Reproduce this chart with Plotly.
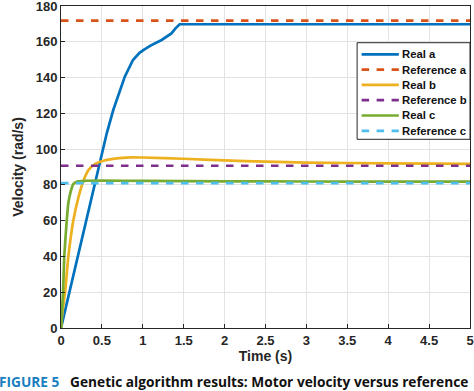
import plotly.graph_objects as go

# Time samples (s) and velocities (rad/s)
t_a = [0, 0.25, 0.5, 0.56, 0.64, 0.72, 0.78, 0.88, 0.96, 1.02, 1.1, 1.23, 1.3, 1.35, 1.4, 1.45, 2.0, 3.0, 4.0, 5.0]
v_a = [0, 49, 98.5, 109, 122, 133, 140.5, 149.8, 153.8, 155.8, 158, 161, 163, 164.7, 167.5, 169.8, 169.8, 169.8, 169.8, 169.8]

t_b = [0, 0.02, 0.05, 0.09, 0.15, 0.21, 0.27, 0.34, 0.42, 0.52, 0.62, 0.75, 0.86, 1.0, 1.5, 2.0, 2.5, 3.0, 4.0, 5.0]
v_b = [0, 10, 20, 40, 60, 72.5, 81.8, 88.5, 91.8, 93.5, 94.4, 95.1, 95.4, 95.3, 94.6, 93.7, 93.0, 92.5, 92.0, 91.8]

t_c = [0, 0.015, 0.025, 0.04, 0.07, 0.09, 0.12, 0.15, 0.2, 0.3, 0.5, 1.0, 2.0, 3.0, 4.0, 5.0]
v_c = [0, 12, 20, 40, 60, 70, 76.5, 80.4, 81.9, 82.3, 82.4, 82.2, 82.0, 81.9, 81.8, 81.8]

ref_t = [0, 5]
ref_a = [171.8, 171.8]
ref_b = [90.7, 90.7]
ref_c = [81.0, 81.0]

x_ticks = [0, 0.5, 1, 1.5, 2, 2.5, 3, 3.5, 4, 4.5, 5]
x_tick_labels = ["0", "0.5", "1", "1.5", "2", "2.5", "3", "3.5", "4", "4.5", "5"]
y_ticks = [0, 20, 40, 60, 80, 100, 120, 140, 160, 180]

DASH = "7.5px,7.5px"
series = [
    ("Real a", t_a, v_a, "#0072BD", "solid", "linear"),
    ("Reference a", ref_t, ref_a, "#D95319", DASH, "linear"),
    ("Real b", t_b, v_b, "#EDB120", "solid", "spline"),
    ("Reference b", ref_t, ref_b, "#7E2F8E", DASH, "linear"),
    ("Real c", t_c, v_c, "#77AC30", "solid", "spline"),
    ("Reference c", ref_t, ref_c, "#4DBEEE", DASH, "linear"),
]

fig = go.Figure()
for name, x, y, color, dash, shape in series:
    fig.add_trace(go.Scatter(
        x=x, y=y, mode="lines", name=name, showlegend=False,
        line=dict(color=color, width=2.7, dash=dash, shape=shape,
                  smoothing=0.5 if shape == "spline" else None),
    ))

font_family = "Liberation Sans, Arial, sans-serif"
axis_common = dict(
    showline=True, linecolor="#262626", linewidth=1, mirror=True,
    ticks="inside", ticklen=4, tickcolor="#262626",
    showgrid=True, gridcolor="#e3e3e3", gridwidth=1,
    zeroline=False, automargin=False, ticklabeloverflow="allow",
    tickfont=dict(family=font_family, size=13, color="#262626", weight="bold"),
)

fig.update_layout(
    width=474, height=391,
    margin=dict(l=61, r=4, t=6, b=63),
    paper_bgcolor="white", plot_bgcolor="white",
    showlegend=False,
    xaxis=dict(
        range=[0, 5], tickvals=x_ticks, ticktext=x_tick_labels,
        title=dict(text="<b>Time (s)</b>", standoff=3,
                   font=dict(family=font_family, size=14, color="#262626")),
        **axis_common,
    ),
    yaxis=dict(
        range=[0, 180], tickvals=y_ticks,
        title=dict(text="<b>Velocity (rad/s)</b>", standoff=8,
                   font=dict(family=font_family, size=14, color="#262626")),
        **axis_common,
    ),
)

# Legend box (MATLAB-style, compact rows) built from the series list
leg_x0, leg_x1, leg_top, leg_bot = 0.724, 1.0, 0.886, 0.586
row_top, row_step = 0.85, 0.0475
fig.add_shape(type="rect", xref="paper", yref="paper",
              x0=leg_x0, x1=leg_x1, y0=leg_bot, y1=leg_top,
              fillcolor="white", line=dict(color="#262626", width=1), layer="above")
for i, (name, x, y, color, dash, shape) in enumerate(series):
    yy = row_top - i * row_step
    fig.add_shape(type="line", xref="paper", yref="paper",
                  x0=0.735, x1=0.826, y0=yy, y1=yy, layer="above",
                  line=dict(color=color, width=2.7, dash=dash))
    fig.add_annotation(xref="paper", yref="paper", x=0.829, y=yy,
                       xanchor="left", yanchor="middle", showarrow=False,
                       text="<b>" + name + "</b>",
                       font=dict(family=font_family, size=11.3, color="#111"))

fig.add_annotation(
    xref="paper", yref="paper", x=-0.156, y=-0.203, xanchor="left", yanchor="bottom",
    text="<b><span style='color:#1a7fc1'>FIGURE 5</span>   Genetic algorithm results: Motor velocity versus reference</b>",
    showarrow=False,
    font=dict(family="Open Sans, sans-serif", size=13.7, color="#111"),
)

fig.write_html("out.html", config={"displayModeBar": False},
               post_script="document.body.style.margin='0';document.body.style.overflow='hidden';")
